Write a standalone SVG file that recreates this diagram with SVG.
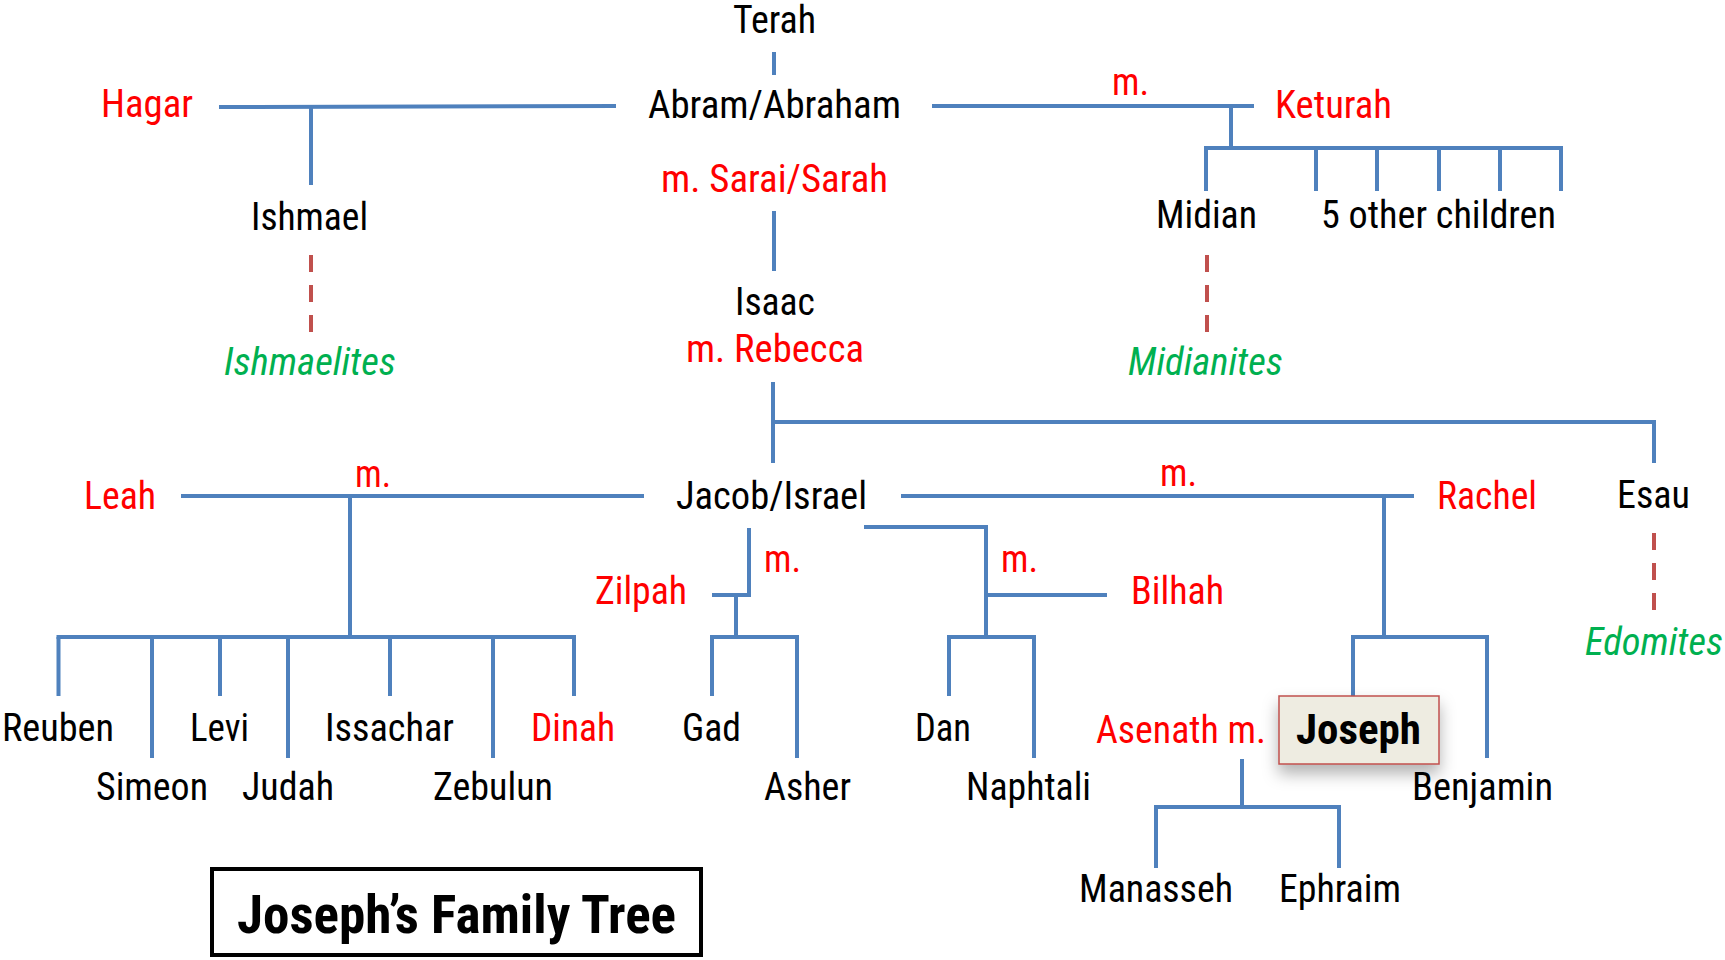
<svg xmlns="http://www.w3.org/2000/svg" width="1725" height="960" viewBox="0 0 1725 960">
<style>
  text { font-family: "Roboto Condensed", "Roboto", "Liberation Sans", sans-serif; font-size: 38px; }
  .k { fill: #000000; }
  .r { fill: #FF0000; }
  .g { fill: #00B050; font-style: italic; }
  .b { fill: #000000; font-weight: bold; }
  .ln { stroke: #4F81BD; stroke-width: 4; fill: none; stroke-linecap: butt; }
  .ds { stroke: #C0504D; stroke-width: 4; fill: none; stroke-dasharray: 17 13; }
</style>
<defs>
  <filter id="shadow" x="-30%" y="-30%" width="160%" height="190%">
    <feDropShadow dx="0" dy="9" stdDeviation="8" flood-color="#000000" flood-opacity="0.3"/>
  </filter>
</defs>
<rect width="1725" height="960" fill="#FFFFFF"/>
<g id="connectors">
  <line class="ln" x1="774" y1="52" x2="774" y2="75"/>
  <line class="ln" x1="219" y1="107" x2="616" y2="106"/>
  <line class="ln" x1="311" y1="107" x2="311" y2="185"/>
  <line class="ds" x1="311" y1="255" x2="311" y2="332"/>
  <line class="ln" x1="932" y1="106" x2="1254" y2="106"/>
  <line class="ln" x1="1231" y1="106" x2="1231" y2="148"/>
  <line class="ln" x1="1204" y1="148" x2="1563" y2="148"/>
  <path class="ln" d="M1206 148V191M1316 148V191M1377 148V191M1439 148V191M1500 148V191M1561 148V191"/>
  <line class="ds" x1="1207" y1="255" x2="1207" y2="332"/>
  <line class="ln" x1="774" y1="211" x2="774" y2="271"/>
  <line class="ln" x1="773" y1="382" x2="773" y2="463"/>
  <polyline class="ln" points="773,422 1654,422 1654,463"/>
  <line class="ds" x1="1654" y1="533" x2="1654" y2="611"/>
  <line class="ln" x1="181" y1="496" x2="644" y2="496"/>
  <line class="ln" x1="350" y1="496" x2="350" y2="637"/>
  <line class="ln" x1="56.5" y1="637" x2="576" y2="637"/>
  <path class="ln" d="M58.5 637V696M152 637V758M220 637V696M288 637V758M390 637V696M493 637V758M574 637V696"/>
  <line class="ln" x1="901" y1="496" x2="1414" y2="496"/>
  <line class="ln" x1="1384" y1="496" x2="1384" y2="637"/>
  <line class="ln" x1="1351" y1="637" x2="1489" y2="637"/>
  <path class="ln" d="M1353 637V696M1487 637V758"/>
  <polyline class="ln" points="749,528 749,595 712,595"/>
  <line class="ln" x1="736" y1="595" x2="736" y2="637"/>
  <line class="ln" x1="710" y1="637" x2="799" y2="637"/>
  <path class="ln" d="M712 637V696M797 637V758"/>
  <polyline class="ln" points="864,527 986,527 986,637"/>
  <line class="ln" x1="986" y1="595" x2="1107" y2="595"/>
  <line class="ln" x1="947" y1="637" x2="1036" y2="637"/>
  <path class="ln" d="M949 637V696M1034 637V758"/>
  <line class="ln" x1="1242" y1="759" x2="1242" y2="807"/>
  <line class="ln" x1="1154" y1="807" x2="1341" y2="807"/>
  <path class="ln" d="M1156 807V868M1339 807V868"/>
</g>
<g id="terah"><text class="k" x="733" y="33" textLength="83" lengthAdjust="spacingAndGlyphs">Terah</text></g>
<g id="abraham"><text class="k" x="648" y="118" textLength="253" lengthAdjust="spacingAndGlyphs">Abram/Abraham</text></g>
<g id="hagar"><text class="r" x="101" y="117" textLength="92" lengthAdjust="spacingAndGlyphs">Hagar</text></g>
<g id="m-keturah"><text class="r" x="1112" y="95" textLength="37" lengthAdjust="spacingAndGlyphs">m.</text></g>
<g id="keturah"><text class="r" x="1275" y="118" textLength="117" lengthAdjust="spacingAndGlyphs">Keturah</text></g>
<g id="sarah"><text class="r" x="661" y="192" textLength="227" lengthAdjust="spacingAndGlyphs">m. Sarai/Sarah</text></g>
<g id="ishmael"><text class="k" x="251" y="230" textLength="117" lengthAdjust="spacingAndGlyphs">Ishmael</text></g>
<g id="midian"><text class="k" x="1156" y="228" textLength="101" lengthAdjust="spacingAndGlyphs">Midian</text></g>
<g id="other-children"><text class="k" x="1321" y="228" textLength="235" lengthAdjust="spacingAndGlyphs">5 other children</text></g>
<g id="isaac"><text class="k" x="735" y="315" textLength="80" lengthAdjust="spacingAndGlyphs">Isaac</text></g>
<g id="rebecca"><text class="r" x="686" y="362" textLength="178" lengthAdjust="spacingAndGlyphs">m. Rebecca</text></g>
<g id="ishmaelites"><text class="g" x="224" y="375" textLength="172" lengthAdjust="spacingAndGlyphs">Ishmaelites</text></g>
<g id="midianites"><text class="g" x="1128" y="375" textLength="155" lengthAdjust="spacingAndGlyphs">Midianites</text></g>
<g id="leah"><text class="r" x="84" y="509" textLength="72" lengthAdjust="spacingAndGlyphs">Leah</text></g>
<g id="m-leah"><text class="r" x="355" y="487" textLength="36" lengthAdjust="spacingAndGlyphs">m.</text></g>
<g id="jacob"><text class="k" x="676" y="509" textLength="191" lengthAdjust="spacingAndGlyphs">Jacob/Israel</text></g>
<g id="m-rachel"><text class="r" x="1160" y="486" textLength="37" lengthAdjust="spacingAndGlyphs">m.</text></g>
<g id="rachel"><text class="r" x="1437" y="509" textLength="100" lengthAdjust="spacingAndGlyphs">Rachel</text></g>
<g id="esau"><text class="k" x="1617" y="508" textLength="73" lengthAdjust="spacingAndGlyphs">Esau</text></g>
<g id="m-zilpah"><text class="r" x="764" y="572" textLength="37" lengthAdjust="spacingAndGlyphs">m.</text></g>
<g id="zilpah"><text class="r" x="595" y="604" textLength="92" lengthAdjust="spacingAndGlyphs">Zilpah</text></g>
<g id="m-bilhah"><text class="r" x="1001" y="572" textLength="37" lengthAdjust="spacingAndGlyphs">m.</text></g>
<g id="bilhah"><text class="r" x="1131" y="604" textLength="93" lengthAdjust="spacingAndGlyphs">Bilhah</text></g>
<g id="edomites"><text class="g" x="1585" y="655" textLength="138" lengthAdjust="spacingAndGlyphs">Edomites</text></g>
<g id="reuben"><text class="k" x="2" y="741" textLength="112" lengthAdjust="spacingAndGlyphs">Reuben</text></g>
<g id="levi"><text class="k" x="190" y="741" textLength="59" lengthAdjust="spacingAndGlyphs">Levi</text></g>
<g id="issachar"><text class="k" x="325" y="741" textLength="129" lengthAdjust="spacingAndGlyphs">Issachar</text></g>
<g id="dinah"><text class="r" x="531" y="741" textLength="84" lengthAdjust="spacingAndGlyphs">Dinah</text></g>
<g id="gad"><text class="k" x="682" y="741" textLength="59" lengthAdjust="spacingAndGlyphs">Gad</text></g>
<g id="dan"><text class="k" x="915" y="741" textLength="56" lengthAdjust="spacingAndGlyphs">Dan</text></g>
<g id="asenath"><text class="r" x="1096" y="743" textLength="170" lengthAdjust="spacingAndGlyphs">Asenath m.</text></g>
<g id="joseph">
  <rect x="1279" y="696" width="160" height="68" fill="#EEECE1" stroke="#C0504D" stroke-width="1.5" filter="url(#shadow)"/>
  <text class="b" x="1296" y="744" style="font-size:42px" textLength="125" lengthAdjust="spacingAndGlyphs">Joseph</text>
</g>
<g id="simeon"><text class="k" x="96" y="800" textLength="112" lengthAdjust="spacingAndGlyphs">Simeon</text></g>
<g id="judah"><text class="k" x="242" y="800" textLength="92" lengthAdjust="spacingAndGlyphs">Judah</text></g>
<g id="zebulun"><text class="k" x="433" y="800" textLength="120" lengthAdjust="spacingAndGlyphs">Zebulun</text></g>
<g id="asher"><text class="k" x="764" y="800" textLength="87" lengthAdjust="spacingAndGlyphs">Asher</text></g>
<g id="naphtali"><text class="k" x="966" y="800" textLength="125" lengthAdjust="spacingAndGlyphs">Naphtali</text></g>
<g id="benjamin"><text class="k" x="1412" y="800" textLength="141" lengthAdjust="spacingAndGlyphs">Benjamin</text></g>
<g id="manasseh"><text class="k" x="1079" y="902" textLength="154" lengthAdjust="spacingAndGlyphs">Manasseh</text></g>
<g id="ephraim"><text class="k" x="1279" y="902" textLength="122" lengthAdjust="spacingAndGlyphs">Ephraim</text></g>
<g id="title">
  <rect x="212" y="869" width="489" height="86" fill="#FFFFFF" stroke="#000000" stroke-width="4"/>
  <text class="b" x="237" y="933" style="font-size:54px" textLength="439" lengthAdjust="spacingAndGlyphs">Joseph’s Family Tree</text>
</g>
</svg>
